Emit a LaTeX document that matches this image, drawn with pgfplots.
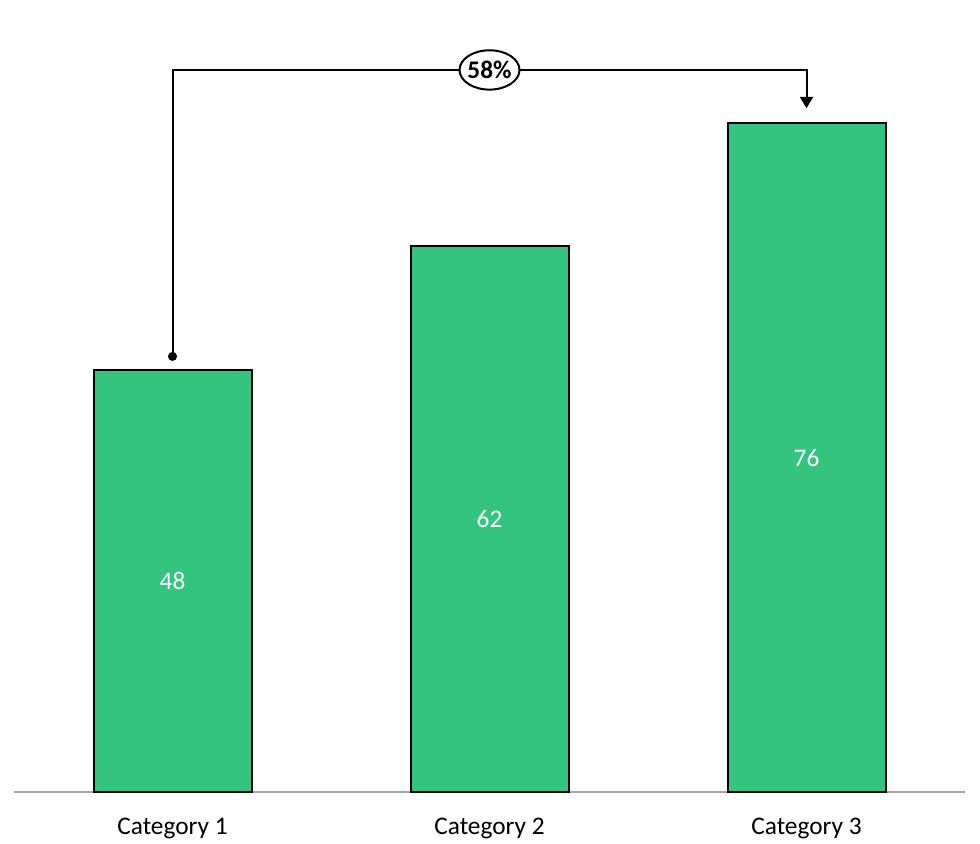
\documentclass[border=0pt]{standalone}
\usepackage{fontspec}
\setmainfont{Carlito}
\usepackage{pgfplots}
\pgfplotsset{compat=1.18}
\usetikzlibrary{arrows.meta,shapes.geometric}
\definecolor{barfill}{RGB}{52,196,128}
\definecolor{basegray}{RGB}{166,166,166}
\newcommand{\lblfont}{\fontsize{19}{23}\selectfont}

\begin{document}
\begin{tikzpicture}
  \begin{axis}[
      scale only axis,
      width=713.25pt, height=594pt,
      xmin=-0.5, xmax=2.5, ymin=0, ymax=90,
      axis x line*=bottom, axis y line=none,
      axis line style={basegray, line width=0.9pt},
      ytick=\empty,
      xtick={0,1,2},
      xticklabels={Category 1, Category 2, Category 3},
      major tick length=0pt,
      xticklabel style={font=\lblfont, anchor=base, yshift=-32pt},
      ybar, bar width=118.5pt,
      clip=false,
      /pgf/number format/assume math mode=true,
      visualization depends on=rawy \as \rawy,
      nodes near coords,
      every node near coord/.append style={font=\lblfont, text=white,
        anchor=center, shift={(axis direction cs:0,-\rawy/2)}},
    ]
    \addplot[fill=barfill, draw=black, line width=1.5pt]
      coordinates {(0,48) (1,62) (2,76)};

    % growth bracket from Category 1 to Category 3
    \draw[line width=1.5pt, -{Triangle[length=8.5pt, width=9.75pt]}]
      (axis cs:0,49.5) -- (axis cs:0,82.05) -- (axis cs:2,82.05) -- (axis cs:2,77.7);
    \fill (axis cs:0,49.5) circle[radius=3.4pt];
    \node[draw, ellipse, line width=1.5pt, fill=white, inner xsep=-2pt, inner ysep=0pt,
      minimum width=45pt, minimum height=29.5pt, font=\lblfont\bfseries]
      at (axis cs:1,82.05) {58\%};

    \coordinate (bl) at (axis cs:-0.5442,-5.909);
    \coordinate (tr) at (axis cs:2.5473,90);
  \end{axis}
  \pgfresetboundingbox
  \useasboundingbox (bl) rectangle (tr);
\end{tikzpicture}
\end{document}
